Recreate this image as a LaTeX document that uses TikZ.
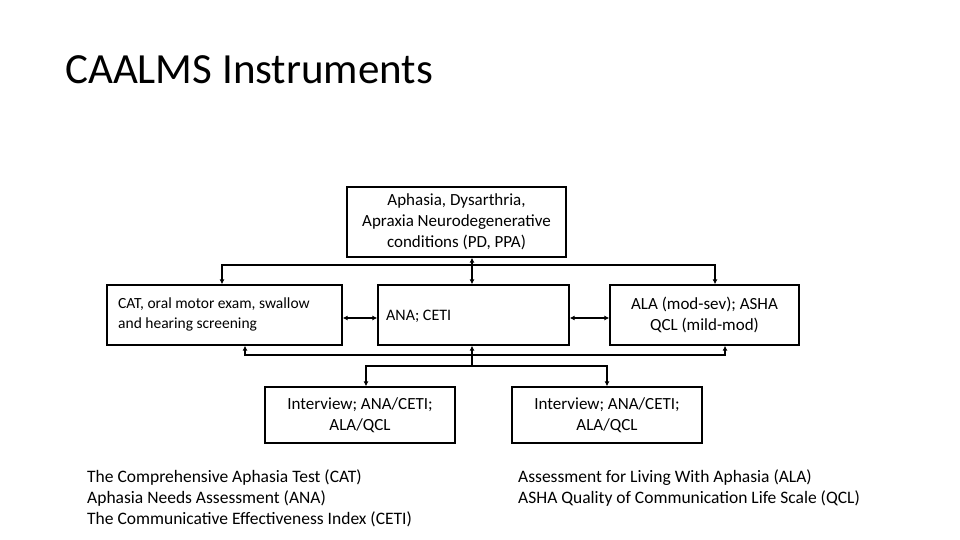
\documentclass[tikz,border=0pt]{standalone}
\usepackage{fontspec}
\setmainfont{Carlito}
\usetikzlibrary{arrows.meta}
\begin{document}
\begin{tikzpicture}[x=1pt,y=-1pt,
 box/.style={draw,line width=1.3pt,align=center,font=\fontsize{17}{21}\selectfont,inner sep=2pt},
 con/.style={line width=2.3pt},
 ar/.style={con,-{Latex[length=5pt,width=5pt]}},
 dar/.style={con,{Latex[length=5pt,width=5pt]}-{Latex[length=5pt,width=5pt]}}]
\useasboundingbox (0,0) rectangle (960,540);
\node[anchor=west,font=\fontsize{43}{46}\selectfont,inner sep=0pt] (title) at (65,70) {CAALMS Instruments};
\node[box,minimum width=219pt,minimum height=70pt] (top) at (456.5,222) {Aphasia, Dysarthria,\\Apraxia Neurodegenerative\\conditions (PD, PPA)};
\node[box,minimum width=235pt,minimum height=60pt] (L) at (224.5,315) {};
\node[anchor=north west,align=flush left,font=\fontsize{15.5}{20}\selectfont,inner sep=0pt] (Lt) at (118,298) {CAT, oral motor exam, swallow\\and hearing screening};
\node[box,minimum width=191pt,minimum height=60pt] (M) at (473.5,315) {};
\node[anchor=west,font=\fontsize{16}{20}\selectfont,inner sep=0pt] (Mt) at (386,316) {ANA; CETI};
\node[box,minimum width=189pt,minimum height=60pt] (R) at (704.5,315) {ALA (mod-sev); ASHA\\QCL (mild-mod)};
\node[box,minimum width=190pt,minimum height=56pt] (B1) at (360,415) {Interview; ANA/CETI;\\ALA/QCL};
\node[box,minimum width=190pt,minimum height=56pt] (B2) at (607,415) {Interview; ANA/CETI;\\ALA/QCL};
\coordinate (j1) at (472,265);
\coordinate (j2) at (472,355);
\coordinate (j3) at (472,366);
\draw[dar] (top.south -| j1) -- (M.north -| j1);
\draw[ar] (j1) -- (222,265) -- (L.north -| 222,0);
\draw[ar] (j1) -- (715,265) -- (R.north -| 715,0);
\draw[ar] (j3) -- (M.south -| j3);
\draw[ar] (j2) -- (245,355) -- (L.south -| 245,0);
\draw[ar] (j2) -- (725,355) -- (R.south -| 725,0);
\draw[ar] (j3) -- (366,366) -- (B1.north -| 366,0);
\draw[ar] (j3) -- (607,366) -- (B2.north -| 607,0);
\draw[dar] (L.east |- 0,318) -- (M.west |- 0,318);
\draw[dar] (M.east |- 0,318) -- (R.west |- 0,318);
\node[anchor=north west,align=left,font=\fontsize{17.5}{21}\selectfont,inner sep=0pt] (n1) at (87,469) {The Comprehensive Aphasia Test (CAT)\\Aphasia Needs Assessment (ANA)\\The Communicative Effectiveness Index (CETI)};
\node[anchor=north west,align=left,font=\fontsize{17.5}{21}\selectfont,inner sep=0pt] (n2) at (518,469) {Assessment for Living With Aphasia (ALA)\\ASHA Quality of Communication Life Scale (QCL)};
\end{tikzpicture}
\end{document}
